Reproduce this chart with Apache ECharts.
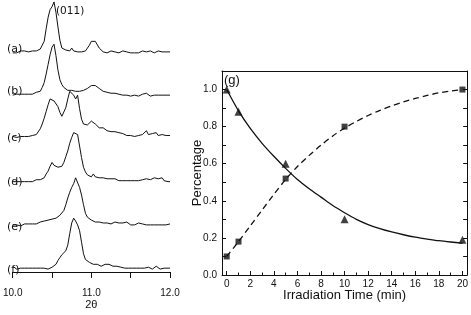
<!DOCTYPE html>
<html>
<head>
<meta charset="utf-8">
<script src="https://cdn.jsdelivr.net/npm/echarts@6/dist/echarts.min.js"></script>
<style>
  html, body { margin: 0; padding: 0; background: #fff; }
  #main { width: 471px; height: 315px; }
</style>
</head>
<body>
<div id="main"></div>
<script>
// Left panel: XRD patterns, sampled every 0.025 deg (2 theta)
const twoTheta = [];
for (let i = 0; i <= 80; i++) twoTheta.push(+(10 + i * 0.025).toFixed(3));

// intensity above each trace's baseline (arbitrary units)
const traceA = [0,1,0,1,2,1,2,2,1,3, 2,3,2,3,4,5,12,25,37,45, 48,53,42,27,13,5,4,3,4,2,
  5,2,2,1,2,1,2,2,4,8, 12,11,12,10,5,3,1,2,0,1, 2,0,1,2,0,1,2,0,1,2,
  0,1,0,2,0,1,2,0,1,0, 2,1,0,1,2,0,1,0,1,0, 1];
const traceB = [1,0,2,1,2,3,2,1,2,3, 2,3,4,3,5,9,14,23,33,43, 51,54,42,27,17,12,9,7,6,5,
  6,4,5,4,5,4,6,7,8,10, 11,10,11,9,8,6,5,4,4,3, 3,2,3,1,2,2,1,3,1,2,
  0,2,1,2,0,1,2,1,3,1, 0,2,1,3,1,2,1,2,1,2, 1];
const traceC = [1,2,0,2,1,3,1,2,1,3, 2,1,3,5,9,14,20,27,34,40, 41,38,40,32,26,22,24,31,40,48,
  50,44,40,44,30,19,14,12,13,15, 17,18,14,12,10,9,10,8,7,8, 6,5,6,4,5,3,4,3,2,4,
  2,3,1,3,2,1,3,4,7,3, 1,4,2,5,2,1,3,4,2,3, 2];
const traceD = [1,0,1,2,1,0,1,2,1,2, 1,2,3,2,3,2,5,9,12,17, 21,18,20,16,15,17,21,27,33,41,
  47,52,54,50,38,26,16,11,8,10, 6,9,6,8,5,7,5,6,4,5, 4,3,4,3,2,3,2,1,2,1,
  2,1,2,1,2,1,3,2,4,2, 3,2,5,3,4,2,5,2,4,1, 1];
const traceE = [1,0,1,2,0,1,2,1,2,1, 2,3,2,3,4,3,5,4,6,5, 7,6,8,9,11,13,16,22,29,35,
  40,44,50,52,40,32,22,13,9,7, 6,7,4,6,4,5,3,4,3,5, 2,3,4,2,3,1,3,2,4,2,
  1,3,1,2,3,1,2,3,1,2, 1,2,1,3,1,2,1,2,1,1, 2];
const traceF = [3,1,0,1,1,0,1,0,1,2, 1,0,1,3,1,0,1,2,0,1, 2,3,5,9,12,15,17,19,25,37,
  48,53,50,46,40,28,16,10,8,7, 6,5,4,5,3,3,4,5,7,5, 4,3,2,3,1,2,3,1,2,1,
  0,1,2,1,0,1,2,1,0,2, 1,0,1,3,1,0,2,1,0,1, 1];
const traces = [traceA, traceB, traceC, traceD, traceE, traceF];
const traceNames = ['(a)', '(b)', '(c)', '(d)', '(e)', '(f)'];
const traceOffsets = [228, 183, 140, 93, 48, 3];

// Right panel (g)
const times = [0, 1, 5, 10, 20];
const triangleVals = [1.0, 0.88, 0.60, 0.30, 0.19];
const squareVals = [0.10, 0.18, 0.52, 0.80, 1.0];
const fitTimes = [0,1,2,3,4,5,6,7,8,9,10,11,12,13,14,15,16,17,18,19,20];
const fitDecay = [1.0,0.885,0.79,0.71,0.64,0.575,0.515,0.465,0.42,0.375,0.336,0.30,0.272,0.25,0.232,0.217,0.204,0.194,0.185,0.178,0.172];
const fitGrowth = [0.10,0.18,0.265,0.35,0.435,0.515,0.585,0.645,0.70,0.75,0.792,0.828,0.86,0.888,0.912,0.933,0.952,0.968,0.982,0.992,1.0];
const timeMajor = [0,2,4,6,8,10,12,14,16,18,20];
const timeMinor = [1,3,5,7,9,11,13,15,17,19];

const chart = echarts.init(document.getElementById('main'), null, { renderer: 'canvas' });

const black = '#111';
const sans = 'Liberation Sans, Arial, sans-serif';

let series = traces.map((t, k) => ({
  type: 'line',
  xAxisIndex: 0,
  yAxisIndex: 0,
  showSymbol: false,
  silent: true,
  lineStyle: { color: black, width: 1 },
  data: twoTheta.map((x, i) => [x, traceOffsets[k] + t[i]])
}));

series.push({
  type: 'line', xAxisIndex: 1, yAxisIndex: 1, showSymbol: false, smooth: 0.3,
  lineStyle: { color: black, width: 1.3 },
  data: fitTimes.map((t, i) => [t, fitDecay[i]])
});
series.push({
  type: 'line', xAxisIndex: 1, yAxisIndex: 1, showSymbol: false, smooth: 0.3,
  lineStyle: { color: black, width: 1.3, type: [6, 4] },
  data: fitTimes.map((t, i) => [t, fitGrowth[i]])
});
series.push({
  type: 'scatter', xAxisIndex: 1, yAxisIndex: 1, symbol: 'triangle', symbolSize: 8,
  itemStyle: { color: black },
  data: times.map((t, i) => [t, triangleVals[i]])
});
series.push({
  type: 'scatter', xAxisIndex: 1, yAxisIndex: 1, symbol: 'rect', symbolSize: 6,
  itemStyle: { color: black },
  data: times.map((t, i) => [t, squareVals[i]])
});

const panelLabels = traceNames.map((name, k) => ({
  type: 'text', x: 7, y: [49, 91, 138, 182, 227, 270][k],
  style: { text: name, font: '11px DejaVu Sans', fill: black, textVerticalAlign: 'middle' }
}));

const option = {
  animation: false,
  backgroundColor: '#fff',
  grid: [
    { left: 10, right: 301, top: 0, bottom: 32 },
    { left: 222, right: 2, top: 71, bottom: 40 }
  ],
  xAxis: [
    {
      gridIndex: 0, type: 'value', min: 10, max: 12, interval: 0.5,
      axisLine: { lineStyle: { color: black, width: 1 } },
      axisTick: { inside: false, length: 6, lineStyle: { color: black } },
      axisLabel: {
        margin: 16, fontSize: 10, fontFamily: sans, color: black,
        formatter: v => (Math.abs(v - Math.round(v)) < 1e-6 ? v.toFixed(1) : '')
      },
      splitLine: { show: false },
      name: '2θ', nameLocation: 'middle', nameGap: 27, nameMoveOverlap: false,
      nameTextStyle: { fontSize: 11, fontFamily: sans, color: black }
    },
    {
      gridIndex: 1, type: 'value', min: -0.4, max: 20.4, position: 'bottom',
      axisLine: { onZero: false, lineStyle: { color: black, width: 1 } },
      axisTick: { inside: true, length: 4, customValues: timeMajor, lineStyle: { color: black } },
      axisLabel: { customValues: timeMajor, margin: 4, fontSize: 10, fontFamily: sans, color: black },
      splitLine: { show: false },
      name: 'Irradiation Time (min)', nameLocation: 'middle', nameGap: 14, nameMoveOverlap: false,
      nameTextStyle: { fontSize: 13, fontFamily: sans, color: black }
    },
    {
      gridIndex: 1, type: 'value', min: -0.4, max: 20.4, position: 'bottom',
      axisLine: { show: false },
      axisTick: { inside: true, length: 2.5, customValues: timeMinor, lineStyle: { color: black } },
      axisLabel: { show: false },
      splitLine: { show: false }
    },
    {
      gridIndex: 1, type: 'value', min: -0.4, max: 20.4, position: 'top',
      axisLine: { onZero: false, lineStyle: { color: black, width: 1 } },
      axisTick: { show: false }, axisLabel: { show: false }, splitLine: { show: false }
    }
  ],
  yAxis: [
    { gridIndex: 0, type: 'value', min: 0, max: 283, show: false },
    {
      gridIndex: 1, type: 'value', min: 0, max: 1.1, interval: 0.1, position: 'left',
      axisLine: { show: true, onZero: false, lineStyle: { color: black, width: 1 } },
      axisTick: { show: true, inside: true, length: 4, lineStyle: { color: black } },
      axisLabel: {
        margin: 5, fontSize: 10, fontFamily: sans, color: black,
        formatter: v => (Math.round(v * 10) % 2 === 0 ? v.toFixed(1) : '')
      },
      splitLine: { show: false },
      name: 'Percentage', nameLocation: 'middle', nameGap: 18, nameMoveOverlap: false,
      nameTextStyle: { fontSize: 13, fontFamily: sans, color: black }
    },
    {
      gridIndex: 1, type: 'value', min: 0, max: 1.1, interval: 0.1, position: 'right',
      axisLine: { show: true, onZero: false, lineStyle: { color: black, width: 1 } },
      axisTick: { show: true, inside: true, length: 4, lineStyle: { color: black } },
      axisLabel: { show: false },
      splitLine: { show: false }
    }
  ],
  graphic: panelLabels.concat([
    { type: 'text', x: 56, y: 11,
      style: { text: '(011)', font: '10.5px DejaVu Sans', fill: black, textVerticalAlign: 'middle' } },
    { type: 'text', x: 224, y: 80,
      style: { text: '(g)', font: '13px Liberation Sans', fill: black, textVerticalAlign: 'middle' } }
  ]),
  series: series
};

chart.setOption(option);
</script>
</body>
</html>
